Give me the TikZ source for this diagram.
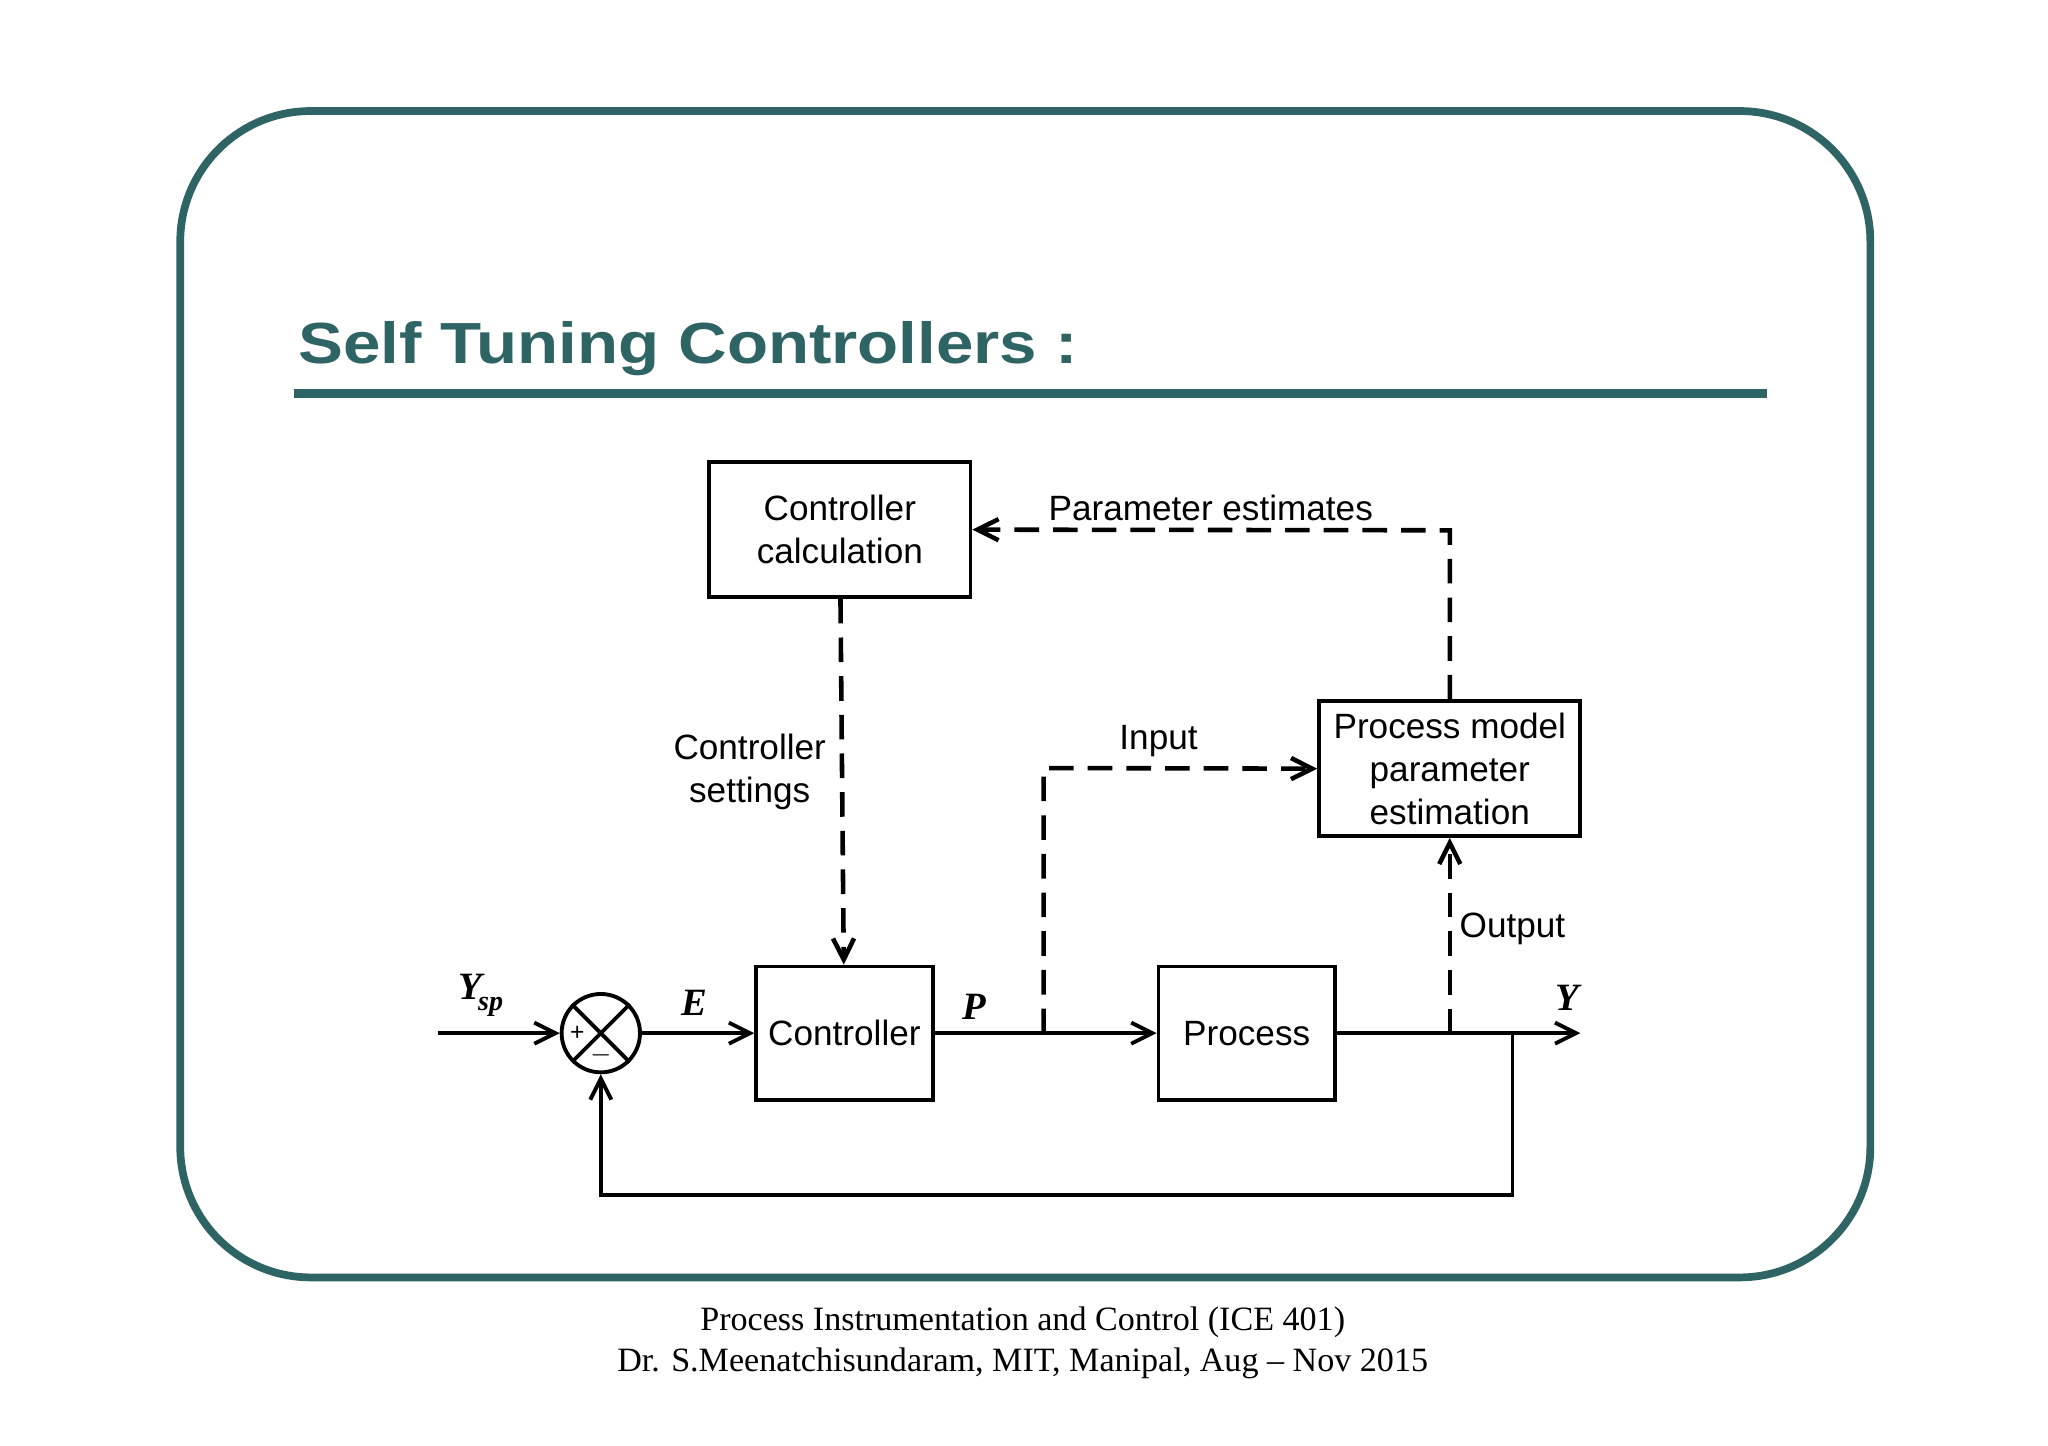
\documentclass[tikz,border=0pt]{standalone}
\usepackage{fontspec}
\setmainfont{Liberation Sans}
\newfontfamily\tnr{Liberation Serif}
\usetikzlibrary{arrows.meta}
\definecolor{teal1}{RGB}{47,100,100}
\begin{document}
\begin{tikzpicture}[x=0.01306cm,y=-0.01306cm,
 blk/.style={draw,line width=1.1pt,minimum width=#1,inner sep=0pt,align=center,font=\fontsize{10}{12.2}\selectfont},
 ln/.style={line width=1.1pt},
 ar/.style={ln,-{Straight Barb[length=6pt,width=6pt]}},
 dsh/.style={dash pattern=on 7pt off 4pt,line width=1.3pt},
 lab/.style={font=\fontsize{10}{12.2}\selectfont,align=center},
 var/.style={font=\fontsize{11}{13}\selectfont\tnr\bfseries\itshape}]
\useasboundingbox (0,0) rectangle (1568,1107);
\fill[white] (0,0) rectangle (1568,1107);
\draw[teal1,line width=2.2pt,rounded corners=100*0.01306cm] (138,85) rectangle (1432,978);
\node[anchor=base west,text=teal1,inner sep=0pt,font=\fontsize{16.5}{18}\selectfont\bfseries] (title) at (228,278) {\scalebox{1.16}[1]{Self Tuning Controllers :}};
\draw[teal1,line width=2.6pt] (225,301) -- (1353,301);
% blocks
\node[blk=200*0.01306cm,minimum height=103*0.01306cm] (cc) at (643,405.5) {Controller\\calculation};
\node[blk=200*0.01306cm,minimum height=103*0.01306cm] (pm) at (1110,588.5) {Process model\\parameter\\estimation};
\node[blk=135*0.01306cm,minimum height=102*0.01306cm] (ctl) at (646.5,791) {Controller};
\node[blk=135*0.01306cm,minimum height=102*0.01306cm] (proc) at (954.5,791) {Process};
\node[draw,circle,line width=1.1pt,minimum size=60*0.01306cm,inner sep=0pt] (sum) at (460,791) {};
\draw[ln] (sum.north west) -- (sum.south east) (sum.north east) -- (sum.south west);
\node[font=\fontsize{7}{8}\selectfont] at (442,791) {+};
\node[font=\fontsize{7}{8}\selectfont] at (460,808) {$-$};
\coordinate (ysp) at (335,791);
\coordinate (tapin) at (799,791);
\coordinate (tapout) at (1110,791);
\coordinate (fb) at (1158,791);
\coordinate (yend) at (1210,791);
\draw[ar] (ysp) -- (sum);
\draw[ar] (sum) -- (ctl);
\draw[ar] (ctl) -- (proc);
\draw[ar] (proc) -- (yend);
\draw[ar] (fb) -- (1158,915) -- (460,915) -- (sum.south);
\draw[ar,dsh] (cc) -- (ctl);
\draw[ar,dsh] (tapin) -- (799,588) -- (pm.west);
\draw[ar,dsh] (tapout) -- (pm.south);
\draw[ar,dsh] (pm.north) -- (1110,406) -- (cc.east);
% labels
\node[lab] at (927,389) {Parameter estimates};
\node[lab] at (574,591) {Controller\\settings};
\node[lab] at (887,567) {Input};
\node[lab] at (1158,711) {Output};
\node[var] at (368,762) {Y\kern-1pt\raisebox{-3pt}{\fontsize{8}{9}\selectfont sp}};
\node[var] at (532,768) {E};
\node[var] at (746,771) {P};
\node[var] at (1200,764) {Y};
\node[font=\fontsize{9.7}{11.6}\selectfont\tnr,align=center] at (783,1028) {Process Instrumentation and Control (ICE 401)\\Dr. S.Meenatchisundaram, MIT, Manipal, Aug – Nov 2015};
\end{tikzpicture}
\end{document}
